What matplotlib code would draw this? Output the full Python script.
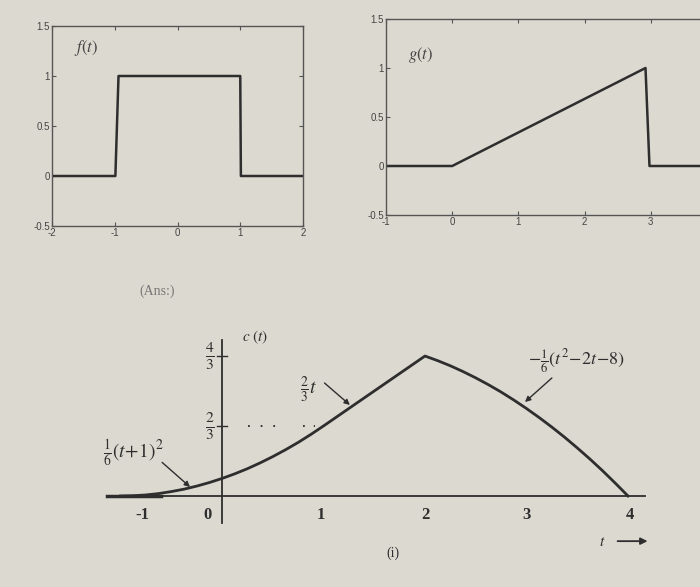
import numpy as np
import matplotlib.pyplot as plt

plt.rcParams['mathtext.fontset'] = 'stix'

# donnees
t_f = [-2, -0.99, -0.94, 1.0, 1.01, 2]
f_vals = [0, 0, 1, 1, 0, 0]

t_g = [-1, 0, 2.92, 2.98, 4]
g_vals = [0, 0, 1, 0, 0]

t_c = [-1.0, -0.875, -0.75, -0.625, -0.5, -0.375, -0.25, -0.125, 0.0, 0.125,
       0.25, 0.375, 0.5, 0.625, 0.75, 0.875, 1.0, 1.5, 2.0, 2.125, 2.25, 2.375,
       2.5, 2.625, 2.75, 2.875, 3.0, 3.125, 3.25, 3.375, 3.5, 3.625, 3.75, 3.875, 4.0]
c_vals = [0.0, 0.003, 0.010, 0.023, 0.042, 0.065, 0.094, 0.128, 0.167, 0.211,
          0.260, 0.315, 0.375, 0.440, 0.510, 0.586, 0.667, 1.0, 1.333, 1.289, 1.240, 1.185,
          1.125, 1.060, 0.990, 0.914, 0.833, 0.747, 0.656, 0.560, 0.458, 0.352, 0.240, 0.122, 0.0]

top_xticks_f = [-2, -1, 0, 1, 2]
top_xticks_g = [-1, 0, 1, 2, 3]
top_yticks = [-0.5, 0, 0.5, 1, 1.5]
top_ylabels = ['-0.5', '0', '0.5', '1', '1.5']
c_xticks = ['-1', '0', '1', '2', '3', '4']

bg = '#dcd9d0'
ink = '#2e2e2e'

fig = plt.figure(figsize=(7, 5.87), dpi=100, facecolor=bg)


def style_top(ax):
    ax.set_facecolor('none')
    for s in ax.spines.values():
        s.set_color('#555555')
        s.set_linewidth(1.0)
    ax.tick_params(direction='in', top=True, right=True, length=3, width=0.8,
                   colors='#555555', labelsize=7, pad=1.5, labelcolor='#444444')
    for lab in ax.get_xticklabels() + ax.get_yticklabels():
        lab.set_family('Liberation Sans')


# f(t)
ax1 = fig.add_axes([52/700, 1-226/587, 251/700, 200/587])
ax1.plot(t_f, f_vals, color=ink, lw=1.8)
ax1.set_xlim(-2, 2)
ax1.set_ylim(-0.5, 1.5)
ax1.set_xticks(top_xticks_f)
ax1.set_xticklabels([str(v) for v in top_xticks_f])
ax1.set_yticks(top_yticks)
ax1.set_yticklabels(top_ylabels)
style_top(ax1)
ax1.text(-1.65, 1.28, r'$f(t)$', fontsize=12, color='#444444', va='center')

# g(t)
ax2 = fig.add_axes([386/700, 1-215/587, 331/700, 196/587])
ax2.plot(t_g, g_vals, color=ink, lw=1.8)
ax2.set_xlim(-1, 4)
ax2.set_ylim(-0.5, 1.5)
ax2.set_xticks(top_xticks_g)
ax2.set_xticklabels([str(v) for v in top_xticks_g])
ax2.set_yticks(top_yticks)
ax2.set_yticklabels(top_ylabels)
style_top(ax2)
ax2.text(-0.67, 1.13, r'$g(t)$', fontsize=12, color='#444444', va='center')

fig.text(157/700, 1-291/587, '(Ans:)', family='Liberation Serif', fontsize=10,
         color='#777777', ha='center', va='center')

# c(t)
ax3 = fig.add_axes([0, 0, 1, 287/587])
ax3.set_xlim(-222/101.5, (700-222)/101.5)
ax3.set_ylim(-91/105, 196/105)
ax3.axis('off')

ax3.plot([-1.13, 4.17], [0, 0], color=ink, lw=1.3)
ax3.plot([0, 0], [-0.26, 1.49], color=ink, lw=1.3)
ax3.plot([-1.13, -0.6], [0, 0], color=ink, lw=2.5)
ax3.plot(t_c, c_vals, color=ink, lw=2.0)

for v in [2/3, 4/3]:
    ax3.plot([-0.05, 0.05], [v, v], color=ink, lw=1.0)
ax3.text(-0.12, 4/3, r'$\frac{4}{3}$', fontsize=16, ha='center', va='center', color=ink)
ax3.text(-0.12, 0.657, r'$\frac{2}{3}$', fontsize=16, ha='center', va='center', color=ink)

# pointilles a 2/3
ax3.plot([0.26, 0.6], [2/3, 2/3], color=ink, lw=1.3, linestyle=(0, (1, 6)))
ax3.plot([0.8, 0.92], [2/3, 2/3], color=ink, lw=1.3, linestyle=(0, (1, 5)))

shift = [0.22, -0.14, -0.03, 0, 0, 0.02]
for i, lab in enumerate(c_xticks):
    ax3.text(int(lab) + shift[i], -0.18, lab, family='Liberation Serif',
             fontsize=12, fontweight='bold', ha='center', va='center', color=ink)

ax3.text(0.2, 1.514, r'$c\ (t)$', fontsize=11, ha='left', va='center', color=ink)

arrow = dict(arrowstyle='-|>', color=ink, lw=1.0, mutation_scale=8, shrinkA=0, shrinkB=0)
ax3.annotate('', xy=(-0.315, 0.086), xytext=(-0.59, 0.32), arrowprops=arrow)
ax3.text(-1.17, 0.41, r'$\frac{1}{6}(t\!+\!1)^2$', fontsize=14, color=ink, va='center')
ax3.annotate('', xy=(1.26, 0.867), xytext=(1.01, 1.076), arrowprops=arrow)
ax3.text(0.77, 1.01, r'$\frac{2}{3}t$', fontsize=14, color=ink, va='center')
ax3.annotate('', xy=(2.985, 0.895), xytext=(3.25, 1.124), arrowprops=arrow)
ax3.text(3.01, 1.276, r'$-\frac{1}{6}(t^2\!-\!2t\!-\!8)$', fontsize=13, color=ink, va='center')

ax3.text(3.75, -0.43, r'$t$', fontsize=11, ha='center', va='center', color=ink)
ax3.annotate('', xy=(4.22, -0.43), xytext=(3.87, -0.43),
             arrowprops=dict(arrowstyle='-|>', color=ink, lw=1.3, mutation_scale=10))
ax3.text(1.685, -0.543, '(i)', family='Liberation Serif', fontsize=10,
         ha='center', va='center', color=ink)

plt.savefig('out.png', dpi=100, facecolor=bg)
